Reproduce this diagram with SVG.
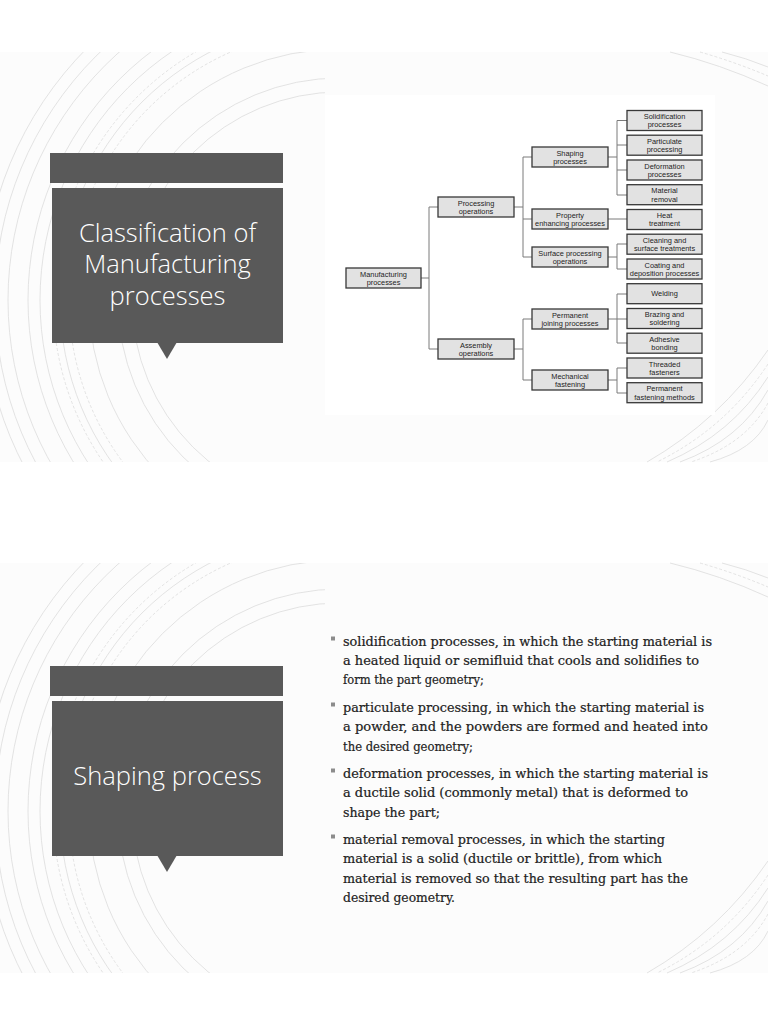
<svg xmlns="http://www.w3.org/2000/svg" width="768" height="1024" viewBox="0 0 768 1024">
<style>
.slide{fill:#fcfcfc}
.arc{fill:none;stroke:#dcdcdc;stroke-width:0.8}
.dash{stroke-dasharray:3 2}
.dark{fill:#595959}
.title{font-family:"Open Sans","Noto Sans","Liberation Sans",sans-serif;font-weight:300;font-size:25.5px;fill:#ffffff;text-anchor:middle}
.box rect{fill:#e2e2e2;stroke:#383838;stroke-width:1.3}
.box text{font-family:"Liberation Sans",Arial,sans-serif;font-size:7.4px;fill:#222;text-anchor:middle}
.conn{fill:none;stroke:#7a7a7a;stroke-width:1}
.bt{font-family:"DejaVu Serif Condensed","DejaVu Serif",serif;font-stretch:condensed;font-size:13px;fill:#222;stroke:#222;stroke-width:0.2}
.bul{fill:#8c8c8c}
</style>
<defs>
<clipPath id="c1"><rect x="0" y="52" width="325" height="410"/></clipPath>
<clipPath id="c2"><rect x="0" y="563" width="325" height="410"/></clipPath>
<g id="arcs">
<circle class="arc" cx="340" cy="300" r="208"/>
<circle class="arc" cx="340" cy="300" r="222"/>
<circle class="arc" cx="340" cy="300" r="251"/>
<circle class="arc dash" cx="340" cy="300" r="271"/>
<circle class="arc" cx="340" cy="300" r="280"/>
<circle class="arc dash" cx="340" cy="300" r="287"/>
<circle class="arc" cx="340" cy="300" r="300"/>
<circle class="arc" cx="340" cy="300" r="312"/>
<circle class="arc" cx="340" cy="300" r="332"/>
<circle class="arc" cx="340" cy="300" r="345"/>
<circle class="arc" cx="340" cy="300" r="357"/>
</g>
<g id="rarcs">
<path class="arc" d="M670,52 Q720,64 768,86"/>
<path class="arc dash" d="M700,52 Q735,62 768,76"/>
<path class="arc" d="M722,52 Q746,58 768,67"/>
<path class="arc" d="M768,350 Q720,420 647,462"/>
<path class="arc dash" d="M768,364 Q726,428 657,462"/>
<path class="arc" d="M768,377 Q732,434 667,462"/>
<path class="arc" d="M768,390 Q740,440 680,462"/>
<path class="arc dash" d="M768,403 Q746,444 691,462"/>
<path class="arc" d="M768,420 Q754,450 710,462"/>
</g>
</defs>

<!-- Slide 1 -->
<g id="slide1">
<rect class="slide" x="0" y="52" width="768" height="410"/>
<g clip-path="url(#c1)"><use href="#arcs"/></g>
<use href="#rarcs"/>
<rect x="325" y="95" width="390" height="320" fill="#ffffff"/>
<g id="title1">
<rect class="dark" x="50" y="153" width="233" height="30"/>
<rect class="dark" x="52" y="188" width="231" height="155"/>
<polygon class="dark" points="157,342 177,342 167,359"/>
<text class="title" x="167.5" y="241.5">Classification of</text>
<text class="title" x="167.5" y="273">Manufacturing</text>
<text class="title" x="167.5" y="305">processes</text>
</g>

<g id="connectors">
<path class="conn" d="M421,278 H429 M429,207 V349 M429,207 H438 M429,349 H438"/>
<path class="conn" d="M514,207 H523 M523,157 V257 M523,157 H532 M523,219 H532 M523,257 H532"/>
<path class="conn" d="M514,349 H523 M523,319 V380 M523,319 H532 M523,380 H532"/>
<path class="conn" d="M608,157 H617 M617,120.5 V195 M617,120.5 H627 M617,145 H627 M617,170 H627 M617,195 H627"/>
<path class="conn" d="M608,219 H627"/>
<path class="conn" d="M608,257 H617 M617,244 V269 M617,244 H627 M617,269 H627"/>
<path class="conn" d="M608,319 H617 M617,294 V343 M617,294 H627 M617,319 H627 M617,343 H627"/>
<path class="conn" d="M608,380 H617 M617,368 V393 M617,368 H627 M617,393 H627"/>
</g>

<g id="n-manufacturing" class="box"><rect x="346" y="268" width="75" height="20"/><text x="383.5" y="276.5">Manufacturing</text><text x="383.5" y="284.8">processes</text></g>
<g id="n-processing" class="box"><rect x="438" y="197" width="76" height="20"/><text x="476" y="205.5">Processing</text><text x="476" y="213.8">operations</text></g>
<g id="n-assembly" class="box"><rect x="438" y="339" width="76" height="20"/><text x="476" y="347.5">Assembly</text><text x="476" y="355.8">operations</text></g>
<g id="n-shaping" class="box"><rect x="532" y="147" width="76" height="20"/><text x="570" y="155.5">Shaping</text><text x="570" y="163.8">processes</text></g>
<g id="n-property" class="box"><rect x="532" y="209" width="76" height="20"/><text x="570" y="217.5">Property</text><text x="570" y="225.8">enhancing processes</text></g>
<g id="n-surface" class="box"><rect x="532" y="247" width="76" height="20"/><text x="570" y="255.5">Surface processing</text><text x="570" y="263.8">operations</text></g>
<g id="n-permanent" class="box"><rect x="532" y="309" width="76" height="20"/><text x="570" y="317.5">Permanent</text><text x="570" y="325.8">joining processes</text></g>
<g id="n-mechanical" class="box"><rect x="532" y="370" width="76" height="20"/><text x="570" y="378.5">Mechanical</text><text x="570" y="386.8">fastening</text></g>

<g id="n-solidification" class="box"><rect x="627" y="110.5" width="75" height="20"/><text x="664.5" y="119">Solidification</text><text x="664.5" y="127.3">processes</text></g>
<g id="n-particulate" class="box"><rect x="627" y="135.2" width="75" height="20"/><text x="664.5" y="143.7">Particulate</text><text x="664.5" y="152">processing</text></g>
<g id="n-deformation" class="box"><rect x="627" y="160" width="75" height="20"/><text x="664.5" y="168.5">Deformation</text><text x="664.5" y="176.8">processes</text></g>
<g id="n-removal" class="box"><rect x="627" y="184.7" width="75" height="20"/><text x="664.5" y="193.2">Material</text><text x="664.5" y="201.5">removal</text></g>
<g id="n-heat" class="box"><rect x="627" y="209.5" width="75" height="20"/><text x="664.5" y="218">Heat</text><text x="664.5" y="226.3">treatment</text></g>
<g id="n-cleaning" class="box"><rect x="627" y="234.2" width="75" height="20"/><text x="664.5" y="242.7">Cleaning and</text><text x="664.5" y="251">surface treatments</text></g>
<g id="n-coating" class="box"><rect x="627" y="259" width="75" height="20"/><text x="664.5" y="267.5">Coating and</text><text x="664.5" y="275.8">deposition processes</text></g>
<g id="n-welding" class="box"><rect x="627" y="283.7" width="75" height="20"/><text x="664.5" y="296">Welding</text></g>
<g id="n-brazing" class="box"><rect x="627" y="308.5" width="75" height="20"/><text x="664.5" y="317">Brazing and</text><text x="664.5" y="325.3">soldering</text></g>
<g id="n-adhesive" class="box"><rect x="627" y="333.2" width="75" height="20"/><text x="664.5" y="341.7">Adhesive</text><text x="664.5" y="350">bonding</text></g>
<g id="n-threaded" class="box"><rect x="627" y="358" width="75" height="20"/><text x="664.5" y="366.5">Threaded</text><text x="664.5" y="374.8">fasteners</text></g>
<g id="n-permfast" class="box"><rect x="627" y="382.7" width="75" height="20"/><text x="664.5" y="391.2">Permanent</text><text x="664.5" y="399.5">fastening methods</text></g>
</g>

<!-- Slide 2 -->
<g id="slide2">
<rect class="slide" x="0" y="563" width="768" height="410"/>
<g clip-path="url(#c2)"><use href="#arcs" transform="translate(0,511)"/></g>
<use href="#rarcs" transform="translate(0,511)"/>
<g id="title2">
<rect class="dark" x="50" y="666" width="233" height="30"/>
<rect class="dark" x="52" y="701" width="231" height="155"/>
<polygon class="dark" points="157,855 177,855 167,872"/>
<text class="title" x="167.5" y="785">Shaping process</text>
</g>
<g id="bullets">
<rect class="bul" x="331" y="636.5" width="4" height="4"/>
<text class="bt" x="343" y="645.5" textLength="369" lengthAdjust="spacingAndGlyphs">solidification processes, in which the starting material is</text>
<text class="bt" x="343" y="665" textLength="356" lengthAdjust="spacingAndGlyphs">a heated liquid or semifluid that cools and solidifies to</text>
<text class="bt" x="343" y="684" textLength="141" lengthAdjust="spacingAndGlyphs">form the part geometry;</text>
<rect class="bul" x="331" y="702.5" width="4" height="4"/>
<text class="bt" x="343" y="711.5" textLength="361" lengthAdjust="spacingAndGlyphs">particulate processing, in which the starting material is</text>
<text class="bt" x="343" y="731" textLength="365" lengthAdjust="spacingAndGlyphs">a powder, and the powders are formed and heated into</text>
<text class="bt" x="343" y="750.5" textLength="130" lengthAdjust="spacingAndGlyphs">the desired geometry;</text>
<rect class="bul" x="331" y="768.5" width="4" height="4"/>
<text class="bt" x="343" y="777.5" textLength="365" lengthAdjust="spacingAndGlyphs">deformation processes, in which the starting material is</text>
<text class="bt" x="343" y="797" textLength="345" lengthAdjust="spacingAndGlyphs">a ductile solid (commonly metal) that is deformed to</text>
<text class="bt" x="343" y="816.5" textLength="97" lengthAdjust="spacingAndGlyphs">shape the part;</text>
<rect class="bul" x="331" y="834.5" width="4" height="4"/>
<text class="bt" x="343" y="843.5" textLength="322" lengthAdjust="spacingAndGlyphs">material removal processes, in which the starting</text>
<text class="bt" x="343" y="863" textLength="319" lengthAdjust="spacingAndGlyphs">material is a solid (ductile or brittle), from which</text>
<text class="bt" x="343" y="882.5" textLength="345" lengthAdjust="spacingAndGlyphs">material is removed so that the resulting part has the</text>
<text class="bt" x="343" y="902" textLength="112" lengthAdjust="spacingAndGlyphs">desired geometry.</text>
</g>
</g>
</svg>
